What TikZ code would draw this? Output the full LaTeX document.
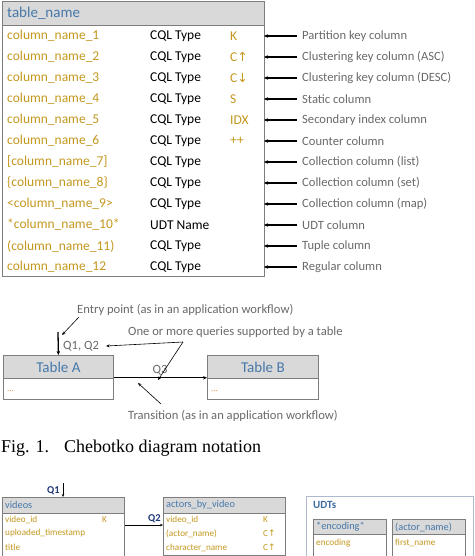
\documentclass[tikz,border=0pt]{standalone}
\usepackage{fontspec}
\setmainfont{Carlito}
\newfontfamily\capfont{Liberation Serif}
\newfontfamily\symf{DejaVu Sans}
\usetikzlibrary{arrows.meta}
\definecolor{gold}{RGB}{196,152,30}
\definecolor{hblue}{RGB}{70,120,170}
\definecolor{qblue}{RGB}{31,56,120}
\definecolor{labgray}{RGB}{105,105,105}
\definecolor{bordgray}{RGB}{125,125,125}
\definecolor{hfill}{RGB}{217,217,217}
\definecolor{dots}{RGB}{230,140,60}
\definecolor{udtbord}{RGB}{175,185,205}
\newcommand{\up}{{\symf\fontsize{12.5}{14}\selectfont ↑}}
\newcommand{\dn}{{\symf\fontsize{12.5}{14}\selectfont ↓}}
\tikzset{
  txt/.style={anchor=west,inner sep=0pt},
  col/.style={txt,text=gold,font=\fontsize{13.5}{16}\selectfont},
  typ/.style={txt,text=black,font=\fontsize{13.5}{16}\selectfont},
  lab/.style={txt,text=labgray,font=\fontsize{12.6}{15}\selectfont},
  boxhead/.style={draw=bordgray,fill=hfill,line width=0.8pt},
  boxbody/.style={draw=bordgray,fill=white,line width=0.8pt},
  conn/.style={line width=1.3pt,-{Stealth[length=4pt,width=3.5pt]}},
  thinarr/.style={line width=0.6pt,-{Stealth[length=3.5pt,width=3pt]}},
  sm/.style={txt,text=gold,font=\fontsize{9.2}{11}\selectfont},
  smhead/.style={txt,text=hblue,font=\fontsize{10.3}{12}\selectfont},
  qlab/.style={txt,text=qblue,font=\bfseries\fontsize{10.5}{12}\selectfont},
}
\begin{document}
\begin{tikzpicture}[x=1pt,y=-1pt]
\useasboundingbox (0,0) rectangle (474,556);
\clip (0,0) rectangle (474,556);

% ---------- top table ----------
\path[boxbody] (2,1) rectangle (264,276);
\path[boxhead] (2,1) rectangle (264,25);
\coordinate (TR) at (264,1);
\node[txt,text=hblue,font=\fontsize{15}{18}\selectfont] (tn) at (7,13) {table\_name};

\node[col] (c1) at (7,36) {column\_name\_1};
\node[col] (c2) at (7,57) {column\_name\_2};
\node[col] (c3) at (7,78) {column\_name\_3};
\node[col] (c4) at (7,99) {column\_name\_4};
\node[col] (c5) at (7,120) {column\_name\_5};
\node[col] (c6) at (7,141) {column\_name\_6};
\node[col] (c7) at (7,162) {[column\_name\_7]};
\node[col] (c8) at (7,183) {\{column\_name\_8\}};
\node[col] (c9) at (7,204) {<column\_name\_9>};
\node[col] (c10) at (7,225) {*column\_name\_10*};
\node[col] (c11) at (7,246) {(column\_name\_11)};
\node[col] (c12) at (7,267) {column\_name\_12};

\foreach \i/\y in {1/36,2/57,3/78,4/99,5/120,6/141,7/162,8/183,9/204,11/246,12/267}
  \node[typ] (t\i) at (150,\y) {CQL Type};
\node[typ] (t10) at (150,225) {UDT Name};

\node[col] (k1) at (230,36) {K};
\node[col] (k2) at (230,57) {C\up};
\node[col] (k3) at (230,78) {C\dn};
\node[col] (k4) at (230,99) {S};
\node[col] (k5) at (230,120) {IDX};
\node[col] (k6) at (230,141) {++};

\node[lab] (l1) at (302,36) {Partition key column};
\node[lab] (l2) at (302,57) {Clustering key column (ASC)};
\node[lab] (l3) at (302,78) {Clustering key column (DESC)};
\node[lab] (l4) at (302,99) {Static column};
\node[lab] (l5) at (302,120) {Secondary index column};
\node[lab] (l6) at (302,141) {Counter column};
\node[lab] (l7) at (302,162) {Collection column (list)};
\node[lab] (l8) at (302,183) {Collection column (set)};
\node[lab] (l9) at (302,204) {Collection column (map)};
\node[lab] (l10) at (302,225) {UDT column};
\node[lab] (l11) at (302,246) {Tuple column};
\node[lab] (l12) at (302,267) {Regular column};
\foreach \i in {1,...,12}
  \draw[conn] ([xshift=-5pt]l\i.west) -- (l\i.west -| TR);

% ---------- notation ----------
\node[boxhead,minimum width=110pt,minimum height=23pt,inner sep=0pt,anchor=north west] (ha) at (3,355) {};
\node[boxbody,minimum width=110pt,minimum height=21pt,inner sep=0pt,anchor=north west] (ba) at (3,378) {};
\node[text=hblue,font=\fontsize{15}{18}\selectfont,inner sep=0pt] (tA) at (ha.center) {Table A};
\node[txt,text=dots,font=\fontsize{9}{10}\selectfont] (da) at (7,391) {...};

\node[boxhead,minimum width=111pt,minimum height=23pt,inner sep=0pt,anchor=north west] (hb) at (207,355) {};
\node[boxbody,minimum width=111pt,minimum height=21pt,inner sep=0pt,anchor=north west] (bb) at (207,378) {};
\node[text=hblue,font=\fontsize{15}{18}\selectfont,inner sep=0pt] (tB) at (hb.center) {Table B};
\node[txt,text=dots,font=\fontsize{9}{10}\selectfont] (db) at (211,391) {...};

\node[lab] (entry) at (77,310) {Entry point (as in an application workflow)};
\coordinate (ep) at (58,332);
\draw[conn] (ep) -- (ha.north);
\node[lab] (q12) at (63,346) {Q1, Q2};
\draw[thinarr] ([shift={(2pt,-7pt)}]entry.west) -- ([shift={(4pt,-3pt)}]ep);

\node[lab] (one) at (128,332) {One or more queries supported by a table};
\node[lab,anchor=center] (q3) at (160,370) {Q3};
\coordinate (om) at (183,342);
\draw[thinarr] (om) -- ([xshift=7pt]q12.east);
\draw[thinarr] (om) -- ([shift={(-2pt,-10pt)}]q3.center);

\draw[conn] ([yshift=1pt]ha.south east) -- ([yshift=1pt]hb.south west);
\node[lab] (trans) at (128,416) {Transition (as in an application workflow)};
\coordinate (tr0) at (161,404);
\draw[thinarr] (tr0) -- (138,383);

% ---------- caption ----------
\node[txt,font=\capfont\fontsize{18}{21}\selectfont] (cap) at (1,448) {Fig. 1.\hspace{15pt}Chebotko diagram notation};

% ---------- example ----------
\node[boxhead,line width=0.6pt,minimum width=122pt,minimum height=16pt,inner sep=0pt,anchor=north west] (hv) at (2,497) {};
\node[boxbody,line width=0.6pt,minimum width=122pt,minimum height=50pt,inner sep=0pt,anchor=north west] (bv) at (2,513) {};
\node[smhead] (vn) at (5,505) {videos};
\node[sm] (v1) at (5,519.5) {video\_id};
\node[sm] (v2) at (5,533.5) {uploaded\_timestamp};
\node[sm] (v3) at (5,547.5) {title};
\node[sm] (vk) at (102,519.5) {K};
\node[qlab] (q1) at (47,491) {Q1};
\coordinate (q1top) at (63,483);
\draw[line width=0.9pt,-{Stealth[length=3pt,width=2.5pt]}] (q1top) -- (q1top |- hv.north);

\node[boxhead,line width=0.6pt,minimum width=122pt,minimum height=16pt,inner sep=0pt,anchor=north west] (ha2) at (163,497) {};
\node[boxbody,line width=0.6pt,minimum width=122pt,minimum height=42pt,inner sep=0pt,anchor=north west] (ba2) at (163,513) {};
\node[smhead] (an) at (166,505) {actors\_by\_video};
\node[sm] (a1) at (166,519.5) {video\_id};
\node[sm] (a2) at (166,533.5) {(actor\_name)};
\node[sm] (a3) at (166,547.5) {character\_name};
\node[sm] (ak1) at (263,519.5) {K};
\node[sm] (ak2) at (263,533.5) {C{\symf\fontsize{9}{10}\selectfont ↑}};
\node[sm] (ak3) at (263,547.5) {C{\symf\fontsize{9}{10}\selectfont ↑}};
\node[qlab] (q2) at (148,519) {Q2};
\draw[line width=0.6pt,-{Stealth[length=3pt,width=2.5pt]}] (bv.east |- 0,525) -- (ba2.west |- 0,525);

\node[draw=udtbord,line width=0.8pt,minimum width=167pt,minimum height=80pt,inner sep=0pt,anchor=north west] (udt) at (306,496) {};
\node[qlab,text=hblue!80!qblue,font=\bfseries\fontsize{11}{13}\selectfont] (udtl) at (313,505) {UDTs};
\node[boxhead,line width=0.6pt,minimum width=73pt,minimum height=15pt,inner sep=0pt,anchor=north west] (he) at (313,519) {};
\node[boxbody,line width=0.6pt,minimum width=73pt,minimum height=40pt,inner sep=0pt,anchor=north west] (be) at (313,534) {};
\node[smhead] (en) at (316,527) {*encoding*};
\node[sm] (e1) at (316,543) {encoding};
\node[boxhead,line width=0.6pt,minimum width=73pt,minimum height=15pt,inner sep=0pt,anchor=north west] (hn) at (392,519) {};
\node[boxbody,line width=0.6pt,minimum width=73pt,minimum height=40pt,inner sep=0pt,anchor=north west] (bn) at (392,534) {};
\node[smhead] (nn) at (395,527) {(actor\_name)};
\node[sm] (n1) at (395,543) {first\_name};
\end{tikzpicture}
\end{document}
